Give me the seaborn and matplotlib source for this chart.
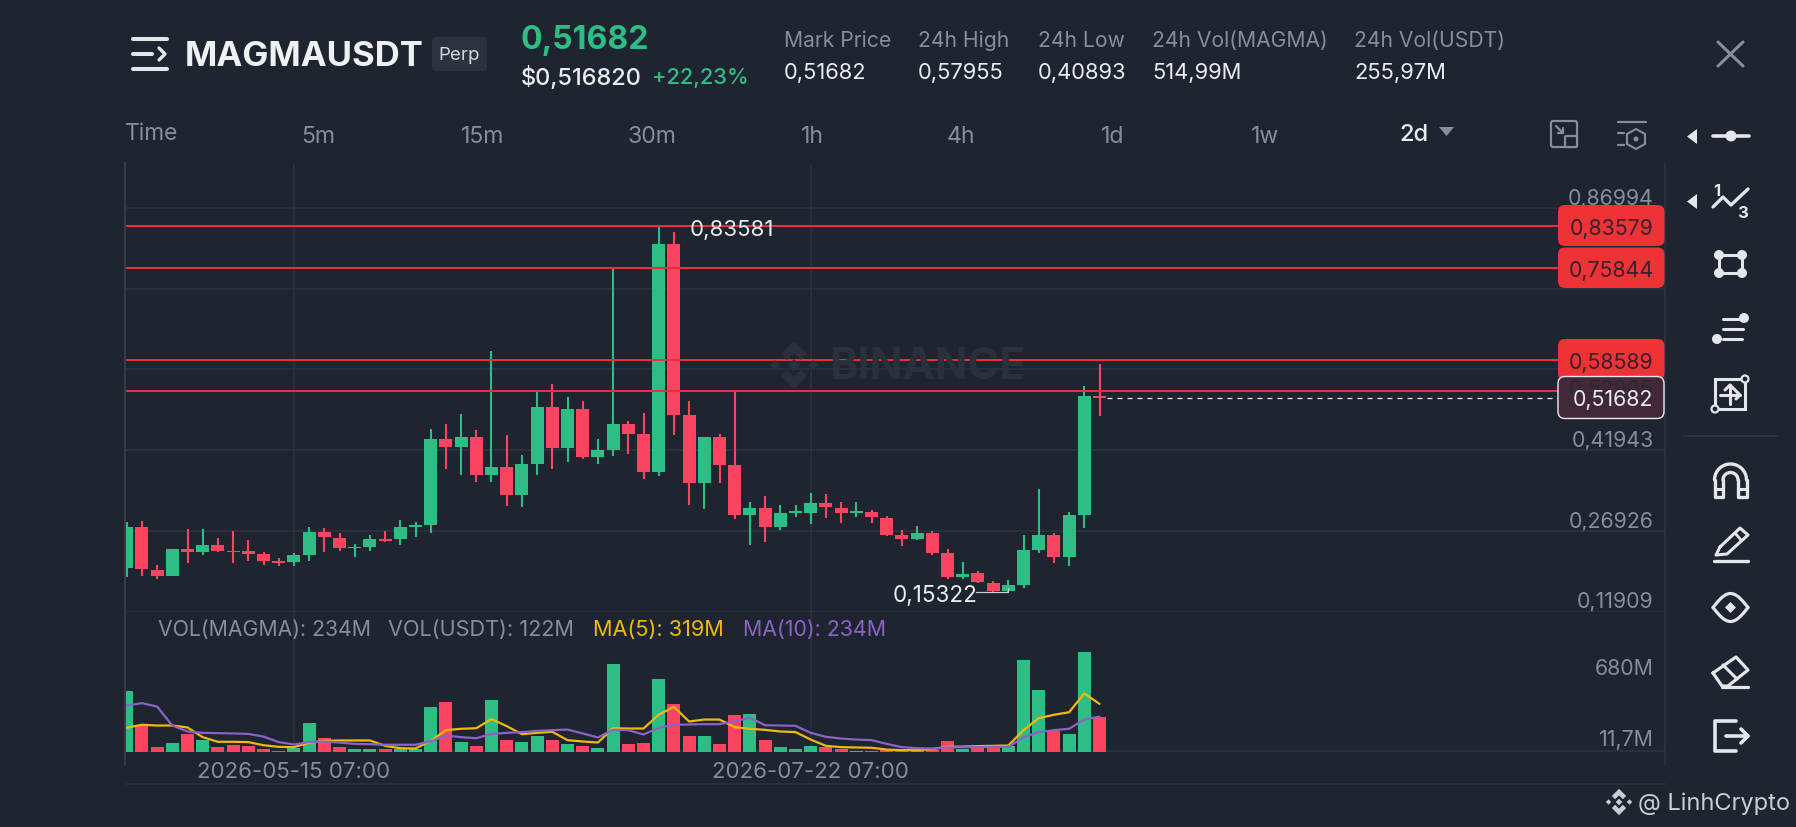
import numpy as np
import pandas as pd
import matplotlib
matplotlib.use("Agg")
import matplotlib.pyplot as plt
from matplotlib.patches import FancyBboxPatch, Polygon, Circle, Rectangle
import seaborn as sns

# ---------- data ----------
body_top = [.2758,.2758,.1971,.2355,.2355,.2424,.2424,.2318,.2318,.2256,.2126,.2244,.2665,.2665,.2566,.2393,.2548,.2548,.2765,.2808,
            .4395,.4401,.4439,.4439,.3887,.3887,.3936,.4997,.4997,.4953,.4953,.4203,.4680,.4680,.4501,.8028,.8028,.4842,.4445,.4445,
            .3912,.3118,.3118,.3019,.3056,.3211,.3205,.3124,.3056,.3050,.2938,.2622,.2647,.2647,.2281,.1897,.1903,.1729,.1680,.2331,
            .2616,.2616,.2982,.5207,.5201]
body_bot = [.2002,.1983,.1859,.1853,.2306,.2306,.2324,.2293,.2256,.2132,.2095,.2120,.2250,.2572,.2368,.2368,.2393,.2510,.2541,.2771,
            .2802,.4259,.4259,.3732,.3732,.3366,.3366,.3936,.4240,.4240,.4073,.4073,.4203,.4501,.3794,.3794,.4842,.3589,.3589,.3912,
            .2994,.2994,.2771,.2771,.3025,.3031,.3143,.3025,.3031,.2944,.2622,.2535,.2535,.2287,.1835,.1835,.1735,.1580,.1580,.1686,
            .2337,.2207,.2207,.2994,.51682]
high = [.2858,.2870,.2058,.2355,.2727,.2727,.2560,.2684,.2517,.2306,.2194,.2275,.2765,.2746,.2653,.2448,.2610,.2690,.2889,.2858,
        .4587,.4680,.4866,.4575,.6038,.4476,.4110,.5276,.5418,.5183,.5114,.4408,.7563,.4736,.4891,.83581,.8245,.5102,.4445,.4488,
        .5288,.3230,.3335,.3180,.3180,.3397,.3378,.3236,.3230,.3087,.2963,.2709,.2777,.2690,.2355,.2120,.1952,.1766,.1785,.2622,
        .3471,.2659,.3044,.5387,.57955]
low = [.1828,.1847,.1804,.1853,.2095,.2244,.2293,.2095,.2138,.2064,.2045,.2045,.2138,.2300,.2312,.2213,.2324,.2492,.2436,.2572,
       .2653,.3843,.3738,.3608,.3608,.3149,.3130,.3726,.3850,.3980,.4029,.3930,.4091,.4129,.3657,.3719,.4482,.3168,.3093,.3589,
       .2913,.2430,.2492,.2709,.2957,.2827,.2938,.2845,.2944,.2845,.2603,.2411,.2529,.2244,.1791,.1804,.1729,.1537,.15322,.1624,
       .2275,.2089,.2045,.2740,.4835]
is_up = [1,0,0,1,0,1,0,0,0,0,0,1,1,0,0,1,1,0,1,1,
         1,0,1,0,1,0,1,1,0,1,0,1,1,0,0,1,0,0,1,0,
         0,1,0,1,1,1,0,0,1,0,0,0,1,0,0,1,0,0,1,1,
         1,0,1,1,0]
volume = [406,170,27,60,118,74,33,45,40,18,4,22,194,92,33,20,20,16,16,20,
          301,330,67,40,342,76,67,103,74,51,40,22,583,49,56,485,315,103,105,47,
          246,252,76,33,16,38,29,20,3,4,7,9,4,9,71,18,22,22,36,610,
          409,147,116,665,234]
ma5 = [159,179,174,174,161,96,65,65,63,42,31,29,58,71,74,74,74,38,22,20,
       71,143,152,156,217,170,116,125,132,76,67,60,156,154,154,246,299,201,214,214,
       163,152,145,134,130,80,38,29,27,25,13,9,9,16,31,33,36,38,40,143,
       223,246,263,389,319]
ma10 = [308,324,301,174,134,125,123,121,118,100,63,47,63,67,60,51,49,45,45,45,
        69,107,96,89,118,125,130,138,143,147,121,94,145,143,114,159,179,181,183,183,
        203,226,176,174,172,125,98,87,80,76,51,29,22,20,27,29,29,31,31,94,
        130,143,152,214,234]
price_ticks = [.86994,.71977,.56960,.41943,.26926,.11909]
price_tick_labels = ["0,86994","","","0,41943","0,26926","0,11909"]
alert_levels = [.83579,.75844,.58589,.52905]
last_price = .51682
date_ticks = [11,45]
date_labels = ["2026-05-15 07:00","2026-07-22 07:00"]

BG="#1e2530"; GRID="#2d3440"; BORDER="#343b48"; GREEN="#2ebd85"; RED="#fb4560"
LINE="#ea2f38"; BOX="#ee3337"; GRAY="#848e9c"; WHITE="#eaecef"; ORANGE="#f0b90b"; PURPLE="#8a63c4"; ICON="#e4e6ea"

sns.set_theme(style="dark", rc={"figure.facecolor":BG,"axes.facecolor":BG,"savefig.facecolor":BG})
plt.rcParams["font.family"]=["Inter","DejaVu Sans"]

W,H=1796,828
fig=plt.figure(figsize=(W/100,H/100),dpi=100)
def pane(l,t,r,b):
    return fig.add_axes([l/W,1-b/H,(r-l)/W,(b-t)/H])
PX=15.2; X0=126.7
xlim=((125-X0)/PX,(1665-X0)/PX)
P_PER_PX=0.15017/80.75

df=pd.DataFrame({"i":np.arange(len(volume)),"top":body_top,"bot":body_bot,"high":high,"low":low,
                 "up":is_up,"volume":volume,"ma5":ma5,"ma10":ma10})
df["dir"]=np.where(df.up==1,"up","down")
pal={"up":GREEN,"down":RED}

# ---------- price pane ----------
ax=pane(125,165.5,1665,612.5)
ax.set_xlim(*xlim)
ax.set_ylim(.11909,.11909+447*P_PER_PX)
ax.hlines(price_ticks,*xlim,color=GRID,lw=1.1,zorder=1)
ax.vlines(date_ticks,.11909,1,color=GRID,lw=1.1,zorder=1)
colors=[pal[d] for d in df.dir]
ax.vlines(df.i,df.low,df.high,color=colors,lw=1.5,zorder=3)
ax.bar(df.i,df.top-df.bot,bottom=df.bot,width=.855,color=colors,lw=0,zorder=3)
ax.hlines(alert_levels,xlim[0],(1558-X0)/PX,color=LINE,lw=1.45,zorder=4)
ax.hlines(last_price,64.5,(1558-X0)/PX,color=WHITE,lw=.9,linestyles=(0,(4,4)),zorder=4)
ax.text(37.05,.8308,"0,83581",color=WHITE,fontsize=16,va="center",ha="left",zorder=5)
ax.text(56,.1490,"0,15322",color=WHITE,fontsize=16.2,va="center",ha="right",zorder=5)
ax.plot([55.9,58,58],[.1545,.1545,.1625],color="#c9ccd1",lw=.9,zorder=5)
ax.set_xticks([])
ax.set_yticks(price_ticks)
ax.set_yticklabels(price_tick_labels)
ax.yaxis.tick_right()
ax.tick_params(axis="y",length=0,pad=-8.2,labelcolor=GRAY,labelsize=15.4)
for t in ax.get_yticklabels():
    t.set_ha("right"); t.set_va("bottom")
sns.despine(ax=ax,top=True,right=True,left=True,bottom=True)
ax.grid(False)

# ---------- volume pane ----------
av=pane(125,612.5,1665,752.5)
sns.barplot(data=df,x="i",y="volume",hue="dir",palette=pal,native_scale=True,dodge=False,
            width=.855,gap=0,legend=False,ax=av,zorder=3,saturation=1,linewidth=0,errorbar=None)
sns.lineplot(data=df,x="i",y="ma5",color=ORANGE,lw=1.6,ax=av,zorder=4)
sns.lineplot(data=df,x="i",y="ma10",color=PURPLE,lw=1.6,ax=av,zorder=5)
av.set_xlim(*xlim); av.set_ylim(0,140*6.7)
av.vlines(date_ticks,0,2000,color=GRID,lw=1.1,zorder=1)
av.axhline(3,color=GRID,lw=1.1,zorder=2)
av.set_xticks(date_ticks); av.set_xticklabels(date_labels)
av.tick_params(axis="x",length=0,pad=7.2,labelcolor=GRAY,labelsize=16)
av.set_yticks([]); av.set_xlabel(""); av.set_ylabel("")
sns.despine(ax=av,top=True,right=True,left=True,bottom=True)
av.grid(False)

# ---------- interface layer in pixel coordinates ----------
ui=fig.add_axes([0,0,1,1],zorder=10); ui.set_xlim(0,W); ui.set_ylim(H,0); ui.axis("off"); ui.patch.set_alpha(0)
def T(x,y,s,c=GRAY,fs=15.2,ha="left",w="normal",va="center",**k):
    return ui.text(x,y,s,color=c,fontsize=fs,ha=ha,va=va,fontweight=w,**k)
def L(xs,ys,c=ICON,lw=2.2,**k):
    ui.plot(xs,ys,color=c,lw=lw,solid_capstyle="round",solid_joinstyle="round",**k)
def RB(x0,y0,x1,y1,r=7,fc=BG,ec="none",lw=0,alpha=None,z=2):
    ui.add_patch(FancyBboxPatch((x0+r,y0+r),x1-x0-2*r,y1-y0-2*r,boxstyle=f"round,pad={r},rounding_size={r}",
                                fc=fc,ec=ec,lw=lw,alpha=alpha,zorder=z))
def diamond(cx,cy,r,c,z=1):
    ui.add_patch(Polygon([[cx,cy-r],[cx+r,cy],[cx,cy+r],[cx-r,cy]],fc=c,ec="none",zorder=z))
def chevrons(cx,cy,k,c,z=1):
    ui.add_patch(Polygon([[cx,cy-24*k],[cx+13*k,cy-11*k],[cx+7*k,cy-5*k],[cx,cy-12*k],[cx-7*k,cy-5*k],[cx-13*k,cy-11*k]],fc=c,ec="none",zorder=z))
    ui.add_patch(Polygon([[cx,cy+24*k],[cx+13*k,cy+11*k],[cx+7*k,cy+5*k],[cx,cy+12*k],[cx-7*k,cy+5*k],[cx-13*k,cy+11*k]],fc=c,ec="none",zorder=z))
    diamond(cx,cy,6*k,c,z); diamond(cx-19*k,cy,5*k,c,z); diamond(cx+19*k,cy,5*k,c,z)
# frame lines
L([125,125],[163,766],c=BORDER,lw=1.5)
L([1665,1665],[163,766],c=GRID,lw=1.1)
L([126,1665],[785,785],c=GRID,lw=1.1)
# header
L([133,167],[40,40],lw=2.9); L([133,152],[55,55],lw=2.9); L([133,167],[70,70],lw=2.9); L([159,165,159],[49,55,61],lw=2.4)
T(185,57,"MAGMAUSDT",c="#f0f1f3",fs=25,w="bold")
RB(432,38,487,72,r=4,fc="#2c3340")
T(459.5,56,"Perp",c="#d5d8dd",fs=13.5,ha="center")
T(521,41,"0,51682",c=GREEN,fs=23,w="bold")
T(521,78,"$0,516820",c=WHITE,fs=17,w="medium")
T(652,78,"+22,23%",c=GREEN,fs=15.7,w="medium")
for x,a,b in [(783.7,"Mark Price","0,51682"),(918,"24h High","0,57955"),(1038,"24h Low","0,40893"),
              (1152,"24h Vol(MAGMA)","514,99M"),(1354,"24h Vol(USDT)","255,97M")]:
    T(x,41,a,fs=15.2); T(x,73,b,c=WHITE,fs=15.8)
L([1718,1743],[43,67],c=GRAY,lw=2.2); L([1743,1718],[43,67],c=GRAY,lw=2.2)
# interval tabs
T(125,134,"Time",fs=16.3)
for cx,s in [(318,"5m"),(482.5,"15m"),(652,"30m"),(812,"1h"),(961,"4h"),(1112.5,"1d"),(1264.5,"1w")]:
    T(cx,137,s,fs=16.6,ha="center")
T(1399,135,"2d",c=WHITE,fs=17,w="medium")
ui.add_patch(Polygon([[1439,128],[1454,128],[1446.5,137]],fc=GRAY,ec="none"))
# chart tool icons top
RB(1551,122,1577,148,r=2,fc="none",ec=GRAY,lw=1.6)
RB(1565,137,1577,148,r=1,fc=BG,ec=GRAY,lw=1.6,z=3)
L([1556,1563],[127,134],c=GRAY,lw=1.6); L([1563,1563,1558],[129,134,134],c=GRAY,lw=1.6)
L([1618,1646],[123,123],c=GRAY,lw=1.6); L([1618,1624],[134,134],c=GRAY,lw=1.6); L([1618,1624],[146,146],c=GRAY,lw=1.6)
hx=1636; hy=140
ui.add_patch(Polygon([[hx,hy-10],[hx+9,hy-5],[hx+9,hy+5],[hx,hy+10],[hx-9,hy+5],[hx-9,hy-5]],fc="none",ec=GRAY,lw=1.5))
ui.add_patch(Circle((hx,hy),2.5,fc=GRAY,ec="none"))
# side toolbar
for y in (137,202):
    ui.add_patch(Polygon([[1697,y-7],[1697,y+8],[1687,y+.5]],fc=ICON,ec="none"))
L([1713,1749],[137,137],lw=2.6); ui.add_patch(Circle((1731,137),5.5,fc=ICON,ec="none"))
L([1713,1723,1731,1748],[208,198,206,190],lw=2.4); T(1717,191,"1",c=ICON,fs=12,ha="center",w="bold"); T(1743,214,"3",c=ICON,fs=12,ha="center",w="bold")
ui.add_patch(Rectangle((1719,256),23,18,fc="none",ec=ICON,lw=2.2))
for x,y in [(1719,256),(1742,256),(1719,274),(1742,274)]:
    ui.add_patch(Circle((x,y),5,fc=ICON,ec="none"))
L([1723,1743],[320,320],lw=2.2); L([1723,1743],[330,330],lw=2.2); L([1723,1742],[340,340],lw=2.2)
ui.add_patch(Circle((1744,319),5,fc=ICON,ec="none")); ui.add_patch(Circle((1717,340),5,fc=ICON,ec="none"))
ui.add_patch(Rectangle((1715,380),30,30,fc="none",ec=ICON,lw=2.2))
L([1730,1730],[386,405],lw=2.2); L([1725,1730,1735],[391,386,391],lw=2.2); L([1720,1740],[396,396],lw=2.2); L([1736,1740,1736],[392,396,400],lw=2.2)
ui.add_patch(Circle((1745,380),3.5,fc=BG,ec=ICON,lw=1.6,zorder=4)); ui.add_patch(Circle((1715,410),3.5,fc=BG,ec=ICON,lw=1.6,zorder=4))
L([1684,1777],[436.6,436.6],c=GRID,lw=1.4)
th=np.linspace(np.pi,0,40)
L(1730.5+16*np.cos(th),481-16*np.sin(th),lw=2.4); L(1730.5+7.5*np.cos(th),481-7.5*np.sin(th),lw=2.4)
L([1714.5,1714.5,1723,1723],[481,498,498,481],lw=2.4); L([1746.5,1746.5,1738,1738],[481,498,498,481],lw=2.4)
L([1714.5,1723],[490,490],lw=2.2); L([1738,1746.5],[490,490],lw=2.2)
L([1720,1740,1748,1727,1716,1720],[548,529,536,555,556,548],lw=2.2); L([1714,1748],[562,562],lw=2.4)
L([1735,1741],[534,541],lw=2)
ex=np.linspace(0,1,30)
L(1713+35*ex,608.5-14*np.sin(np.pi*ex),lw=2.3); L(1713+35*ex,608.5+14*np.sin(np.pi*ex),lw=2.3)
diamond(1730.5,608.5,5.5,ICON,z=4)
L([1713,1736,1748,1728,1722,1713],[674,658,671,687,687,674],lw=2.3); L([1722,1748],[688,688],lw=2.3); L([1723,1737],[666,680],lw=2.2)
L([1736,1715,1715,1736],[722,722,752,752],lw=2.6); L([1726,1748],[737,737],lw=2.6); L([1741,1748,1741],[730,737,744],lw=2.6)
# price boxes
RB(1558,206,1664.5,247,fc=BOX); RB(1558,248.5,1664.5,289,fc=BOX); RB(1558,340,1664.5,381,fc=BOX)
for y,s in [(229,"0,83579"),(271,"0,75844"),(363,"0,58589")]:
    T(1653.5,y,s,c="#35202c",fs=15.4,ha="right")
RB(1558,377.5,1664,419.5,fc="#43283a",ec="none",z=2)
T(1653.5,390,"0,52905",c="#2f2733",fs=15.4,ha="right")
RB(1558,377.5,1664,419.5,fc="none",ec="#e8e9ec",lw=1)
T(1653.5,400,"0,51682",c=WHITE,fs=15.4,ha="right")
T(1653.5,669,"680M",fs=15.4,ha="right"); T(1653.5,740,"11,7M",fs=15.4,ha="right")
# pane legend
T(158,630,"VOL(MAGMA): 234M",fs=15.3); T(388,630,"VOL(USDT): 122M",fs=15.6)
T(593,630,"MA(5): 319M",c=ORANGE,fs=15.6); T(742.7,630,"MA(10): 234M",c=PURPLE,fs=15.4)
# watermarks
wm="#2a313c"
chevrons(794,366,1,wm)
T(829,368,"BINANCE",c=wm,fs=31,w="bold",zorder=1)
chevrons(1619,803,.55,"#c9ccd2",z=3)
T(1638,804,"@ LinhCrypto",c="#c9ccd2",fs=17)

fig.savefig("out.png",dpi=100,facecolor=BG)
